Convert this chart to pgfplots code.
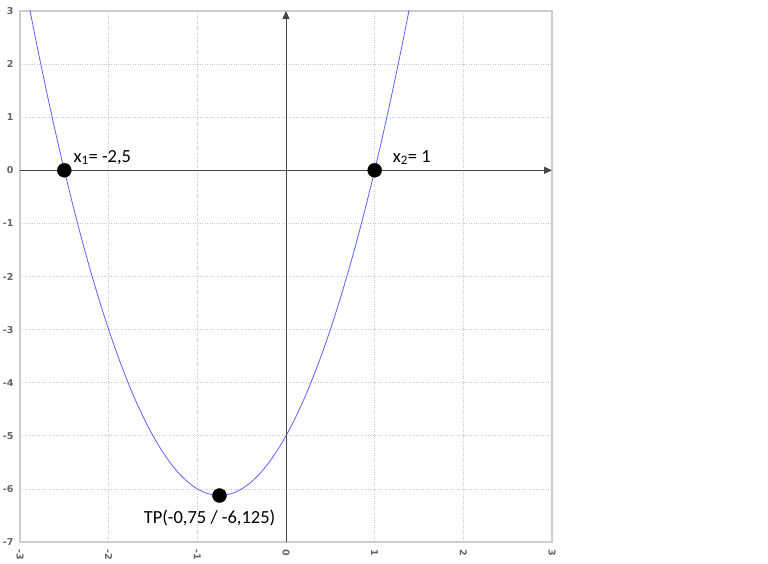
\documentclass[border=0pt]{standalone}
\usepackage{fontspec}
\setmainfont{Carlito}
\newfontfamily\tickfont{DejaVu Sans}
\usepackage{pgfplots}
\pgfplotsset{compat=1.18}
\usetikzlibrary{arrows.meta}
\definecolor{curveblue}{RGB}{95,95,255}
\definecolor{gridgray}{RGB}{200,200,200}
\definecolor{bordergray}{RGB}{205,205,205}
\definecolor{axisdark}{RGB}{70,70,70}
\definecolor{ticktext}{RGB}{100,100,100}
\begin{document}
\begin{tikzpicture}[x=1pt,y=1pt]
\useasboundingbox (0,0) rectangle (768,564);
\begin{axis}[
  at={(20pt,22pt)}, anchor=south west,
  scale only axis, width=532pt, height=531pt,
  xmin=-3, xmax=3, ymin=-7, ymax=3,
  xtick={-3,...,3}, ytick={-7,...,3},
  grid=major,
  grid style={dotted, draw=gridgray, line width=0.7pt},
  axis line style={draw=bordergray, line width=1.3pt},
  tick style={draw=none},
  clip mode=individual,
  /pgf/number format/assume math mode=true,
  ticklabel style={font=\tickfont\bfseries\fontsize{9.5}{10}\selectfont, text=ticktext},
  x tick label style={rotate=-90, anchor=west},
  xticklabel shift=4pt,
  yticklabel shift=3pt,
]
\addplot[curveblue, line width=0.8pt, smooth] coordinates {
(-3.0,4) (-2.9,3.12) (-2.8,2.28) (-2.7,1.48) (-2.6,0.72) (-2.5,0)
(-2.4,-0.68) (-2.3,-1.32) (-2.2,-1.92) (-2.1,-2.48) (-2.0,-3)
(-1.9,-3.48) (-1.8,-3.92) (-1.7,-4.32) (-1.6,-4.68) (-1.5,-5)
(-1.4,-5.28) (-1.3,-5.52) (-1.2,-5.72) (-1.1,-5.88) (-1.0,-6)
(-0.9,-6.08) (-0.8,-6.12) (-0.75,-6.125) (-0.7,-6.12) (-0.6,-6.08) (-0.5,-6)
(-0.4,-5.88) (-0.3,-5.72) (-0.2,-5.52) (-0.1,-5.28) (0,-5)
(0.1,-4.68) (0.2,-4.32) (0.3,-3.92) (0.4,-3.48) (0.5,-3)
(0.6,-2.48) (0.7,-1.92) (0.8,-1.32) (0.9,-0.68) (1.0,0)
(1.1,0.72) (1.2,1.48) (1.3,2.28) (1.4,3.12) (1.5,4)
};
\draw[axisdark, line width=1pt, -{Triangle[length=8pt,width=7pt]}] (axis cs:-3,0) -- (axis cs:3,0);
\draw[axisdark, line width=1pt, -{Triangle[length=8pt,width=7pt]}] (axis cs:0,-7) -- (axis cs:0,3);
\addplot[only marks, mark=*, mark size=7pt, black] coordinates {(-2.5,0) (1,0) (-0.75,-6.125)};
\node[anchor=base west, inner sep=0pt, font=\fontsize{18.5}{20}\selectfont, xshift=9pt, yshift=8pt] at (axis cs:-2.5,0) {x\textsubscript{1}= -2,5};
\node[anchor=base west, inner sep=0pt, font=\fontsize{18.5}{20}\selectfont, xshift=18pt, yshift=8pt] at (axis cs:1,0) {x\textsubscript{2}= 1};
\node[anchor=base, inner sep=0pt, font=\fontsize{18.5}{20}\selectfont, xshift=-10pt, yshift=-28pt] at (axis cs:-0.75,-6.125) {TP(-0,75 / -6,125)};
\end{axis}
\end{tikzpicture}
\end{document}
